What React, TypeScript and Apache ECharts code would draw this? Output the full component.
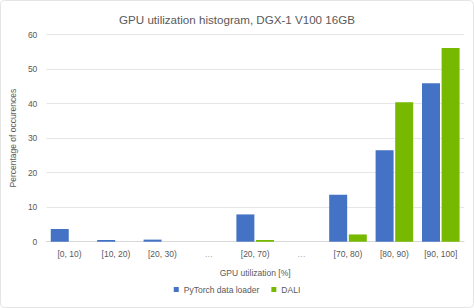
import React, { useEffect, useRef } from "react";
import * as echarts from "echarts";

const categories = ["[0, 10)", "[10, 20)", "[20, 30)", "…", "[20, 70)", "…", "[70, 80)", "[80, 90)", "[90, 100]"];
const pytorchValues = [3.7, 0.5, 0.6, null, 7.9, null, 13.6, 26.5, 45.9];
const daliValues = [null, null, null, null, 0.5, null, 2.1, 40.4, 56.1];
const yTicks = { min: 0, max: 60, interval: 10 };

const FONT = "Liberation Sans";
const TEXT = "#595959";

export default function App() {
  const ref = useRef<HTMLDivElement>(null);
  useEffect(() => {
    if (!ref.current) return;
    const chart = echarts.init(ref.current, undefined, { renderer: "svg" });
    chart.setOption({
      animation: false,
      backgroundColor: "#ffffff",
      textStyle: { fontFamily: FONT },
      title: {
        text: "GPU utilization histogram, DGX-1 V100 16GB",
        left: "center",
        top: 8,
        textStyle: { fontFamily: FONT, fontSize: 11.6, fontWeight: "normal", color: TEXT },
      },
      graphic: [
        {
          type: "rect",
          shape: { x: 0.5, y: 0.5, width: 473, height: 307, r: 4 },
          style: { fill: "none", stroke: "#e4e4e4", lineWidth: 1 },
          silent: true,
          z: -1,
        },
      ],
      legend: {
        bottom: 9,
        left: "center",
        itemWidth: 5,
        itemHeight: 5,
        itemGap: 12,
        icon: "rect",
        textStyle: { fontFamily: FONT, fontSize: 8.5, color: TEXT },
        data: ["PyTorch data loader", "DALI"],
      },
      grid: { left: 43.6, right: 10, top: 34.5, bottom: 66.3, containLabel: false },
      xAxis: {
        type: "category",
        data: categories,
        name: "GPU utilization [%]",
        nameLocation: "middle",
        nameGap: 26.6,
        nameTextStyle: { fontFamily: FONT, fontSize: 8.5, color: TEXT },
        axisTick: { show: false },
        axisLine: { lineStyle: { color: "#d9d9d9" } },
        axisLabel: {
          interval: 0,
          margin: 8,
          fontFamily: FONT,
          fontSize: 8.5,
          color: (value: string) => (value === "…" ? "#a6a6a6" : TEXT),
        },
      },
      yAxis: {
        type: "value",
        min: yTicks.min,
        max: yTicks.max,
        interval: yTicks.interval,
        name: "Percentage of occurences",
        nameLocation: "middle",
        nameGap: 26.6,
        nameRotate: 90,
        nameTextStyle: { fontFamily: FONT, fontSize: 8.5, color: TEXT },
        axisLine: { show: false },
        axisTick: { show: false },
        axisLabel: { fontFamily: FONT, fontSize: 8.5, color: TEXT, margin: 9 },
        splitLine: { lineStyle: { color: "#e6e6e6" } },
      },
      series: [
        {
          name: "PyTorch data loader",
          type: "bar",
          data: pytorchValues,
          itemStyle: { color: "#4472C4" },
          barGap: "9%",
          barCategoryGap: "19%",
        },
        {
          name: "DALI",
          type: "bar",
          data: daliValues,
          itemStyle: { color: "#76B900" },
          barGap: "9%",
          barCategoryGap: "19%",
        },
      ],
    });
    return () => chart.dispose();
  }, []);
  return <div ref={ref} style={{ position: "fixed", left: 0, top: 0, width: 474, height: 308 }} />;
}
